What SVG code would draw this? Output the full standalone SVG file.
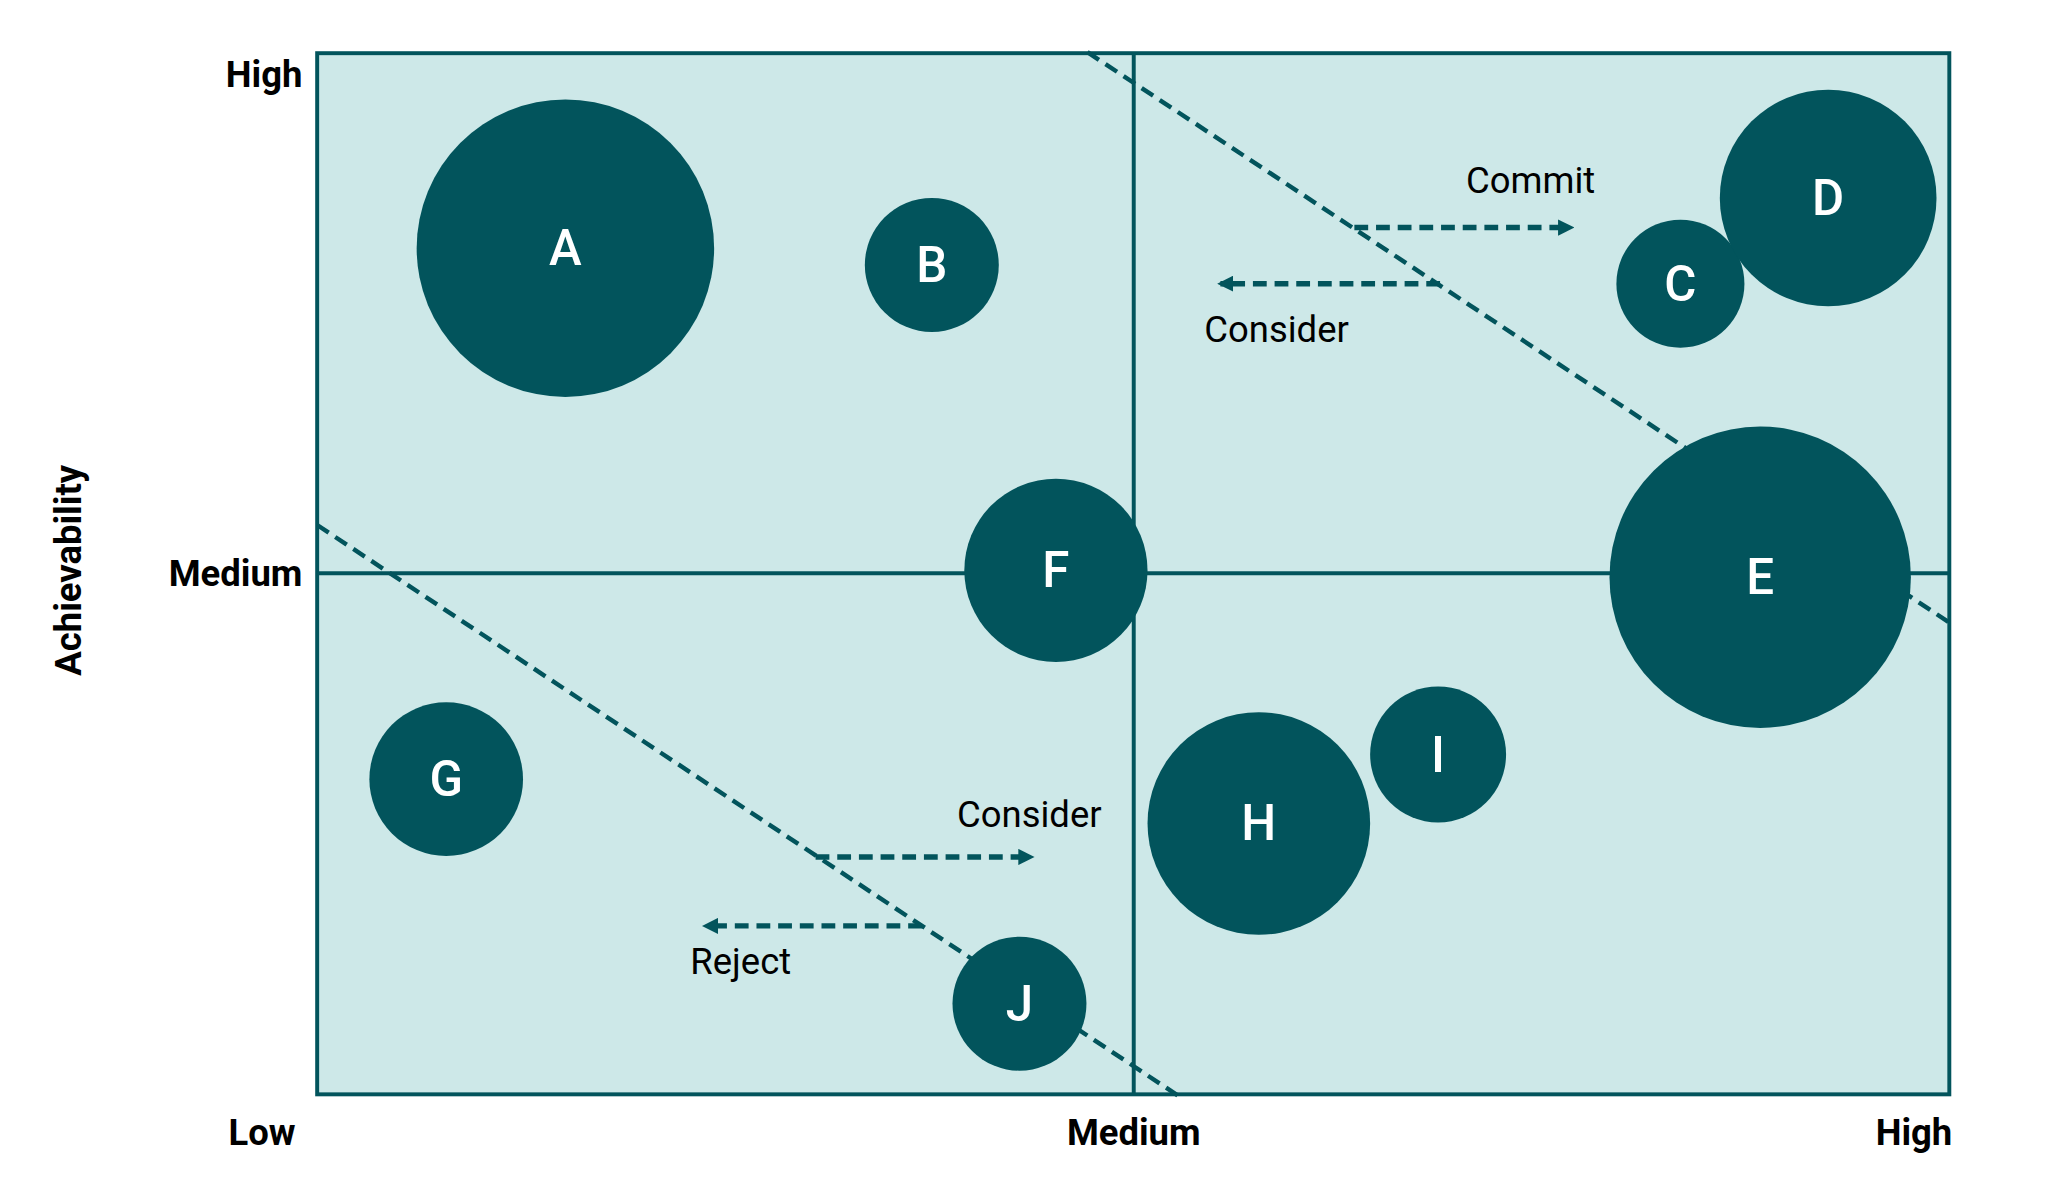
<svg xmlns="http://www.w3.org/2000/svg" width="2048" height="1192" viewBox="0 0 2048 1192">
<defs>
<style>
.n{fill:#02545c}
.nt{fill:#fff;font-family:Roboto,"Noto Sans",sans-serif;font-weight:500;font-size:50px;text-anchor:middle;dominant-baseline:central}
.ax{fill:#000;font-family:Roboto,"Noto Sans",sans-serif;font-weight:700;font-size:37px}
.lb{fill:#000;font-family:Roboto,"Noto Sans",sans-serif;font-size:37px;text-anchor:middle;dominant-baseline:central}
.d{stroke:#02545c;stroke-width:4.5;stroke-dasharray:14 8;fill:none}
.a{stroke:#02545c;stroke-width:5.5;stroke-dasharray:14 8;fill:none}
.g{stroke:#02545c;stroke-width:4}
</style>
<marker id="ah" viewBox="0 0 10 10" refX="8" refY="5" markerWidth="3" markerHeight="3" orient="auto"><path d="M0,0L10,5L0,10z" fill="#02545c"/></marker>
</defs>
<rect width="2048" height="1192" fill="#fff"/>
<g transform="scale(0.985)">
<rect x="322" y="54" width="1657" height="1057" fill="#cde8e8" class="g"/>
<g id="grid">
<line x1="1151" y1="54" x2="1151" y2="1111" class="g"/>
<line x1="322" y1="582" x2="1979" y2="582" class="g"/>
</g>
<g id="connectors">
<line x1="1104" y1="53" x2="1982" y2="634" class="d"/>
<line x1="322" y1="533" x2="1197" y2="1113" class="d"/>
<line x1="1375" y1="231" x2="1595" y2="231" class="a" marker-end="url(#ah)"/>
<line x1="1462" y1="288" x2="1239" y2="288" class="a" marker-end="url(#ah)"/>
<line x1="828" y1="870" x2="1047" y2="870" class="a" marker-end="url(#ah)"/>
<line x1="936" y1="940" x2="716" y2="940" class="a" marker-end="url(#ah)"/>
</g>
<g id="A"><circle cx="574" cy="252" r="151" class="n"/><text x="574" y="252" class="nt">A</text></g>
<g id="B"><circle cx="946" cy="269" r="68" class="n"/><text x="946" y="269" class="nt">B</text></g>
<g id="C"><circle cx="1706" cy="288" r="65" class="n"/><text x="1706" y="288" class="nt">C</text></g>
<g id="D"><circle cx="1856" cy="201" r="110" class="n"/><text x="1856" y="201" class="nt">D</text></g>
<g id="E"><circle cx="1787" cy="586" r="153" class="n"/><text x="1787" y="586" class="nt">E</text></g>
<g id="F"><circle cx="1072" cy="579" r="93" class="n"/><text x="1072" y="579" class="nt">F</text></g>
<g id="G"><circle cx="453" cy="791" r="78" class="n"/><text x="453" y="791" class="nt">G</text></g>
<g id="H"><circle cx="1278" cy="836" r="113" class="n"/><text x="1278" y="836" class="nt">H</text></g>
<g id="I"><circle cx="1460" cy="766" r="69" class="n"/><text x="1460" y="766" class="nt">I</text></g>
<g id="J"><circle cx="1035" cy="1019" r="68" class="n"/><text x="1035" y="1019" class="nt">J</text></g>
<g id="labels">
<text x="1554" y="183" class="lb">Commit</text>
<text x="1296" y="335" class="lb">Consider</text>
<text x="1045" y="827" class="lb">Consider</text>
<text x="752" y="976" class="lb">Reject</text>
<text x="307" y="88" class="ax" text-anchor="end">High</text>
<text x="307" y="595" class="ax" text-anchor="end">Medium</text>
<text x="232" y="1162" class="ax">Low</text>
<text x="1151" y="1162" class="ax" text-anchor="middle">Medium</text>
<text x="1982" y="1162" class="ax" text-anchor="end">High</text>
<text x="0" y="0" class="ax" text-anchor="middle" transform="translate(82,579) rotate(-90)" font-size="42">Achievability</text>
</g>
</g>
</svg>
